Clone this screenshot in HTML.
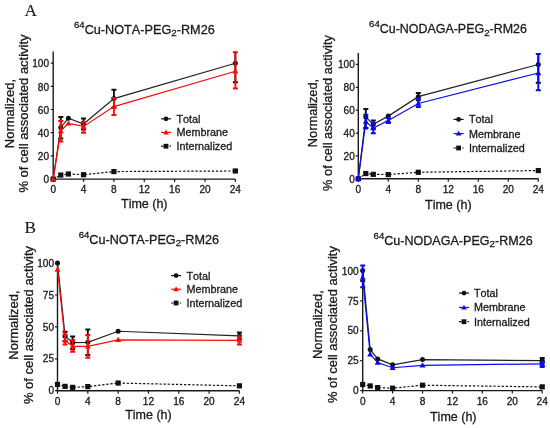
<!DOCTYPE html>
<html><head><meta charset="utf-8"><style>
html,body{margin:0;padding:0;background:#fff;width:550px;height:428px;overflow:hidden}
svg{display:block;font-family:"Liberation Sans", sans-serif;font-kerning:none;filter:blur(0.35px);}
text{fill:#1a1a1a;stroke:#1a1a1a;stroke-width:0.3px}
</style></head><body>
<svg width="550" height="428" viewBox="0 0 550 428">
<text x="24.6" y="15.6" font-family='"Liberation Serif", serif' font-size="17.2" style="stroke-width:0.1px">A</text>
<text x="24.4" y="233.0" font-family='"Liberation Serif", serif' font-size="17.2" style="stroke-width:0.1px">B</text>
<path d="M53.2 51.5V179.1H235.36" fill="none" stroke="#1a1a1a" stroke-width="1.4"/>
<path d="M50.7 179.1H53.2M50.7 155.9H53.2M50.7 132.7H53.2M50.7 109.5H53.2M50.7 86.3H53.2M50.7 63.1H53.2M53.2 179.1v3M83.56 179.1v3M113.92 179.1v3M144.28 179.1v3M174.64 179.1v3M205 179.1v3M235.36 179.1v3" stroke="#1a1a1a" stroke-width="1.2"/>
<text x="49.1" y="183.3" text-anchor="end" font-size="10.1">0</text>
<text x="49.1" y="160.1" text-anchor="end" font-size="10.1">20</text>
<text x="49.1" y="136.9" text-anchor="end" font-size="10.1">40</text>
<text x="49.1" y="113.7" text-anchor="end" font-size="10.1">60</text>
<text x="49.1" y="90.5" text-anchor="end" font-size="10.1">80</text>
<text x="49.1" y="67.3" text-anchor="end" font-size="10.1">100</text>
<text x="53.2" y="193.3" text-anchor="middle" font-size="10.1">0</text>
<text x="83.56" y="193.3" text-anchor="middle" font-size="10.1">4</text>
<text x="113.92" y="193.3" text-anchor="middle" font-size="10.1">8</text>
<text x="144.28" y="193.3" text-anchor="middle" font-size="10.1">12</text>
<text x="174.64" y="193.3" text-anchor="middle" font-size="10.1">16</text>
<text x="205" y="193.3" text-anchor="middle" font-size="10.1">20</text>
<text x="235.36" y="193.3" text-anchor="middle" font-size="10.1">24</text>
<text x="144.28" y="207.5" text-anchor="middle" font-size="12.5">Time (h)</text>
<text transform="translate(14 113.5) rotate(-90)" text-anchor="middle" font-size="13"><tspan x="0" y="0">Normalized,</tspan></text>
<text transform="translate(28.4 113.5) rotate(-90)" text-anchor="middle" font-size="13">% of cell associated activity</text>
<text x="74" y="33.8" font-size="12.68"><tspan font-size="9.6" dy="-6">64</tspan><tspan dy="6">Cu-NOTA-PEG</tspan><tspan font-size="9.8" dy="2.4">2</tspan><tspan dy="-2.4">-RM26</tspan></text>
<polyline points="53.2,179.1 60.79,175.04 68.38,174 83.56,174.69 113.92,171.56 235.36,170.98" fill="none" stroke="#111" stroke-width="1.2" stroke-dasharray="2.3 1.8"/>
<rect x="50.6" y="176.5" width="5.2" height="5.2" fill="#111"/>
<rect x="58.19" y="172.44" width="5.2" height="5.2" fill="#111"/>
<rect x="65.78" y="171.4" width="5.2" height="5.2" fill="#111"/>
<rect x="80.96" y="172.09" width="5.2" height="5.2" fill="#111"/>
<rect x="111.32" y="168.96" width="5.2" height="5.2" fill="#111"/>
<rect x="232.76" y="168.38" width="5.2" height="5.2" fill="#111"/>
<polyline points="53.2,179.1 60.79,127.48 68.38,118.2 83.56,124 113.92,98.6 235.36,63.22" fill="none" stroke="#222" stroke-width="1.2"/>
<path d="M60.79 138.62V116.92" stroke="#111" stroke-width="1.9"/><path d="M58.29 138.62h5M58.29 116.92h5" stroke="#111" stroke-width="2"/>
<path d="M83.56 129.57V118.43" stroke="#111" stroke-width="1.9"/><path d="M81.06 129.57h5M81.06 118.43h5" stroke="#111" stroke-width="2"/>
<path d="M113.92 107.41V89.78" stroke="#111" stroke-width="1.9"/><path d="M111.42 107.41h5M111.42 89.78h5" stroke="#111" stroke-width="2"/>
<path d="M235.36 82.24V51.5" stroke="#111" stroke-width="1.9"/><path d="M232.86 82.24h5" stroke="#111" stroke-width="2"/>
<circle cx="53.2" cy="179.1" r="2.5" fill="#111"/>
<circle cx="60.79" cy="127.48" r="2.5" fill="#111"/>
<circle cx="68.38" cy="118.2" r="2.5" fill="#111"/>
<circle cx="83.56" cy="124" r="2.5" fill="#111"/>
<circle cx="113.92" cy="98.6" r="2.5" fill="#111"/>
<circle cx="235.36" cy="63.22" r="2.5" fill="#111"/>
<polyline points="53.2,179.1 60.79,130.96 68.38,123.42 83.56,126.44 113.92,106.6 235.36,71.22" fill="none" stroke="#ff0a0a" stroke-width="1.2"/>
<path d="M60.79 141.52V120.98" stroke="#ff0a0a" stroke-width="1.9"/><path d="M58.29 141.52h5M58.29 120.98h5" stroke="#ff0a0a" stroke-width="2"/>
<path d="M83.56 132.82V121.91" stroke="#ff0a0a" stroke-width="1.9"/><path d="M81.06 132.82h5M81.06 121.91h5" stroke="#ff0a0a" stroke-width="2"/>
<path d="M113.92 115.07V97.9" stroke="#ff0a0a" stroke-width="1.9"/><path d="M111.42 115.07h5M111.42 97.9h5" stroke="#ff0a0a" stroke-width="2"/>
<path d="M235.36 88.62V52.31" stroke="#ff0a0a" stroke-width="1.9"/><path d="M232.86 88.62h5M232.86 52.31h5" stroke="#ff0a0a" stroke-width="2"/>
<path d="M53.2 176.1L56.2 181.3H50.2Z" fill="#ff0a0a"/>
<path d="M60.79 127.96L63.79 133.16H57.79Z" fill="#ff0a0a"/>
<path d="M68.38 120.42L71.38 125.62H65.38Z" fill="#ff0a0a"/>
<path d="M83.56 123.44L86.56 128.64H80.56Z" fill="#ff0a0a"/>
<path d="M113.92 103.6L116.92 108.8H110.92Z" fill="#ff0a0a"/>
<path d="M235.36 68.22L238.36 73.42H232.36Z" fill="#ff0a0a"/>
<path d="M161 118.8h10" stroke="#111" stroke-width="1.2"/><circle cx="166" cy="118.8" r="2.4" fill="#111"/>
<path d="M161 132.4h10" stroke="#ff0a0a" stroke-width="1.2"/><path d="M166 129.6L168.8 134.4H163.2Z" fill="#ff0a0a"/>
<path d="M161 146.2h2.6M169.6 146.2h1.4" stroke="#111" stroke-width="1.2"/><rect x="163.6" y="143.8" width="4.8" height="4.8" fill="#111"/>
<text x="176.4" y="122.7" font-size="10.8">Total</text>
<text x="176.4" y="136.3" font-size="10.8">Membrane</text>
<text x="176.4" y="150.1" font-size="10.8">Internalized</text>
<path d="M358.3 52.96V178.8H538.3" fill="none" stroke="#1a1a1a" stroke-width="1.4"/>
<path d="M355.8 178.8H358.3M355.8 155.92H358.3M355.8 133.04H358.3M355.8 110.16H358.3M355.8 87.28H358.3M355.8 64.4H358.3M358.3 178.8v3M388.3 178.8v3M418.3 178.8v3M448.3 178.8v3M478.3 178.8v3M508.3 178.8v3M538.3 178.8v3" stroke="#1a1a1a" stroke-width="1.2"/>
<text x="354.8" y="182.7" text-anchor="end" font-size="10.1">0</text>
<text x="354.8" y="159.82" text-anchor="end" font-size="10.1">20</text>
<text x="354.8" y="136.94" text-anchor="end" font-size="10.1">40</text>
<text x="354.8" y="114.06" text-anchor="end" font-size="10.1">60</text>
<text x="354.8" y="91.18" text-anchor="end" font-size="10.1">80</text>
<text x="354.8" y="68.3" text-anchor="end" font-size="10.1">100</text>
<text x="358.3" y="193" text-anchor="middle" font-size="10.1">0</text>
<text x="388.3" y="193" text-anchor="middle" font-size="10.1">4</text>
<text x="418.3" y="193" text-anchor="middle" font-size="10.1">8</text>
<text x="448.3" y="193" text-anchor="middle" font-size="10.1">12</text>
<text x="478.3" y="193" text-anchor="middle" font-size="10.1">16</text>
<text x="508.3" y="193" text-anchor="middle" font-size="10.1">20</text>
<text x="538.3" y="193" text-anchor="middle" font-size="10.1">24</text>
<text x="448.3" y="208.5" text-anchor="middle" font-size="12.5">Time (h)</text>
<text transform="translate(317.4 113) rotate(-90)" text-anchor="middle" font-size="12.8"><tspan x="0" y="0">Normalized,</tspan></text>
<text transform="translate(331.8 113) rotate(-90)" text-anchor="middle" font-size="12.8">% of cell associated activity</text>
<text x="369.1" y="33.3" font-size="12.45"><tspan font-size="9.6" dy="-6">64</tspan><tspan dy="6">Cu-NODAGA-PEG</tspan><tspan font-size="9.8" dy="2.4">2</tspan><tspan dy="-2.4">-RM26</tspan></text>
<polyline points="358.3,178.8 365.8,173.54 373.3,174.34 388.3,174.57 418.3,172.28 538.3,170.56" fill="none" stroke="#111" stroke-width="1.2" stroke-dasharray="2.3 1.8"/>
<rect x="355.7" y="176.2" width="5.2" height="5.2" fill="#111"/>
<rect x="363.2" y="170.94" width="5.2" height="5.2" fill="#111"/>
<rect x="370.7" y="171.74" width="5.2" height="5.2" fill="#111"/>
<rect x="385.7" y="171.97" width="5.2" height="5.2" fill="#111"/>
<rect x="415.7" y="169.68" width="5.2" height="5.2" fill="#111"/>
<rect x="535.7" y="167.96" width="5.2" height="5.2" fill="#111"/>
<polyline points="358.3,178.8 365.8,117.02 373.3,124.35 388.3,116.11 418.3,96.66 538.3,64.51" fill="none" stroke="#222" stroke-width="1.2"/>
<path d="M365.8 128.12V109.02" stroke="#111" stroke-width="1.9"/><path d="M363.3 128.12h5M363.3 109.02h5" stroke="#111" stroke-width="2"/>
<path d="M373.3 128.46V120.46" stroke="#111" stroke-width="1.9"/><path d="M370.8 128.46h5M370.8 120.46h5" stroke="#111" stroke-width="2"/>
<path d="M418.3 100.32V93" stroke="#111" stroke-width="1.9"/><path d="M415.8 100.32h5M415.8 93h5" stroke="#111" stroke-width="2"/>
<path d="M538.3 82.82V52.96" stroke="#111" stroke-width="1.9"/><path d="M535.8 82.82h5" stroke="#111" stroke-width="2"/>
<circle cx="358.3" cy="178.8" r="2.5" fill="#111"/>
<circle cx="365.8" cy="117.02" r="2.5" fill="#111"/>
<circle cx="373.3" cy="124.35" r="2.5" fill="#111"/>
<circle cx="388.3" cy="116.11" r="2.5" fill="#111"/>
<circle cx="418.3" cy="96.66" r="2.5" fill="#111"/>
<circle cx="538.3" cy="64.51" r="2.5" fill="#111"/>
<polyline points="358.3,178.8 365.8,121.6 373.3,128.12 388.3,120.46 418.3,103.52 538.3,72.98" fill="none" stroke="#0a0af2" stroke-width="1.2"/>
<path d="M365.8 128.46V114.74" stroke="#0a0af2" stroke-width="1.9"/><path d="M363.3 128.46h5M363.3 114.74h5" stroke="#0a0af2" stroke-width="2"/>
<path d="M373.3 133.27V122.97" stroke="#0a0af2" stroke-width="1.9"/><path d="M370.8 133.27h5M370.8 122.97h5" stroke="#0a0af2" stroke-width="2"/>
<path d="M388.3 122.97V117.94" stroke="#0a0af2" stroke-width="1.9"/><path d="M385.8 122.97h5M385.8 117.94h5" stroke="#0a0af2" stroke-width="2"/>
<path d="M418.3 106.96V98.38" stroke="#0a0af2" stroke-width="1.9"/><path d="M415.8 106.96h5M415.8 98.38h5" stroke="#0a0af2" stroke-width="2"/>
<path d="M538.3 90.25V53.88" stroke="#0a0af2" stroke-width="1.9"/><path d="M535.8 90.25h5M535.8 53.88h5" stroke="#0a0af2" stroke-width="2"/>
<path d="M358.3 175.8L361.3 181H355.3Z" fill="#0a0af2"/>
<path d="M365.8 118.6L368.8 123.8H362.8Z" fill="#0a0af2"/>
<path d="M373.3 125.12L376.3 130.32H370.3Z" fill="#0a0af2"/>
<path d="M388.3 117.46L391.3 122.66H385.3Z" fill="#0a0af2"/>
<path d="M418.3 100.52L421.3 105.72H415.3Z" fill="#0a0af2"/>
<path d="M538.3 69.98L541.3 75.18H535.3Z" fill="#0a0af2"/>
<path d="M453.6 119.4h10" stroke="#111" stroke-width="1.2"/><circle cx="458.6" cy="119.4" r="2.4" fill="#111"/>
<path d="M453.6 133.6h10" stroke="#0a0af2" stroke-width="1.2"/><path d="M458.6 130.8L461.4 135.6H455.8Z" fill="#0a0af2"/>
<path d="M453.6 148h2.6M462.2 148h1.4" stroke="#111" stroke-width="1.2"/><rect x="456.2" y="145.6" width="4.8" height="4.8" fill="#111"/>
<text x="469" y="123.3" font-size="10.8">Total</text>
<text x="469" y="137.5" font-size="10.8">Membrane</text>
<text x="469" y="151.9" font-size="10.8">Internalized</text>
<path d="M57.5 263.1V390.7H239.42" fill="none" stroke="#1a1a1a" stroke-width="1.4"/>
<path d="M55 390.7H57.5M55 358.8H57.5M55 326.9H57.5M55 295H57.5M55 263.1H57.5M57.5 390.7v3M87.82 390.7v3M118.14 390.7v3M148.46 390.7v3M178.78 390.7v3M209.1 390.7v3M239.42 390.7v3" stroke="#1a1a1a" stroke-width="1.2"/>
<text x="54" y="394.3" text-anchor="end" font-size="10.1">0</text>
<text x="54" y="362.4" text-anchor="end" font-size="10.1">25</text>
<text x="54" y="330.5" text-anchor="end" font-size="10.1">50</text>
<text x="54" y="298.6" text-anchor="end" font-size="10.1">75</text>
<text x="54" y="266.7" text-anchor="end" font-size="10.1">100</text>
<text x="57.5" y="404.5" text-anchor="middle" font-size="10.1">0</text>
<text x="87.82" y="404.5" text-anchor="middle" font-size="10.1">4</text>
<text x="118.14" y="404.5" text-anchor="middle" font-size="10.1">8</text>
<text x="148.46" y="404.5" text-anchor="middle" font-size="10.1">12</text>
<text x="178.78" y="404.5" text-anchor="middle" font-size="10.1">16</text>
<text x="209.1" y="404.5" text-anchor="middle" font-size="10.1">20</text>
<text x="239.42" y="404.5" text-anchor="middle" font-size="10.1">24</text>
<text x="148.46" y="418.5" text-anchor="middle" font-size="12.5">Time (h)</text>
<text transform="translate(17.8 325) rotate(-90)" text-anchor="middle" font-size="13"><tspan x="0" y="0">Normalized,</tspan></text>
<text transform="translate(33.4 325) rotate(-90)" text-anchor="middle" font-size="13">% of cell associated activity</text>
<text x="78.7" y="244" font-size="12.64"><tspan font-size="9.6" dy="-6">64</tspan><tspan dy="6">Cu-NOTA-PEG</tspan><tspan font-size="9.8" dy="2.4">2</tspan><tspan dy="-2.4">-RM26</tspan></text>
<polyline points="57.5,384.45 65.08,386.36 72.66,387.38 87.82,386.62 118.14,383.04 239.42,385.85" fill="none" stroke="#111" stroke-width="1.2" stroke-dasharray="2.3 1.8"/>
<rect x="54.9" y="381.85" width="5.2" height="5.2" fill="#111"/>
<rect x="62.48" y="383.76" width="5.2" height="5.2" fill="#111"/>
<rect x="70.06" y="384.78" width="5.2" height="5.2" fill="#111"/>
<rect x="85.22" y="384.02" width="5.2" height="5.2" fill="#111"/>
<rect x="115.54" y="380.44" width="5.2" height="5.2" fill="#111"/>
<rect x="236.82" y="383.25" width="5.2" height="5.2" fill="#111"/>
<polyline points="57.5,263.1 65.08,336.21 72.66,342.72 87.82,342.34 118.14,331.24 239.42,335.83" fill="none" stroke="#222" stroke-width="1.2"/>
<path d="M65.08 340.94V331.75" stroke="#111" stroke-width="1.9"/><path d="M62.58 340.94h5M62.58 331.75h5" stroke="#111" stroke-width="2"/>
<path d="M72.66 349.36V336.47" stroke="#111" stroke-width="1.9"/><path d="M70.16 349.36h5M70.16 336.47h5" stroke="#111" stroke-width="2"/>
<path d="M87.82 354.97V329.58" stroke="#111" stroke-width="1.9"/><path d="M85.32 354.97h5M85.32 329.58h5" stroke="#111" stroke-width="2"/>
<path d="M239.42 339.15V332.51" stroke="#111" stroke-width="1.9"/><path d="M236.92 339.15h5M236.92 332.51h5" stroke="#111" stroke-width="2"/>
<circle cx="57.5" cy="263.1" r="2.5" fill="#111"/>
<circle cx="65.08" cy="336.21" r="2.5" fill="#111"/>
<circle cx="72.66" cy="342.72" r="2.5" fill="#111"/>
<circle cx="87.82" cy="342.34" r="2.5" fill="#111"/>
<circle cx="118.14" cy="331.24" r="2.5" fill="#111"/>
<circle cx="239.42" cy="335.83" r="2.5" fill="#111"/>
<polyline points="57.5,269.48 65.08,340.3 72.66,346.3 87.82,346.3 118.14,339.79 239.42,340.3" fill="none" stroke="#ff0a0a" stroke-width="1.2"/>
<path d="M65.08 344.38V334.56" stroke="#ff0a0a" stroke-width="1.9"/><path d="M62.58 344.38h5M62.58 334.56h5" stroke="#ff0a0a" stroke-width="2"/>
<path d="M72.66 351.65V340.3" stroke="#ff0a0a" stroke-width="1.9"/><path d="M70.16 351.65h5M70.16 340.3h5" stroke="#ff0a0a" stroke-width="2"/>
<path d="M87.82 357.78V334.94" stroke="#ff0a0a" stroke-width="1.9"/><path d="M85.32 357.78h5M85.32 334.94h5" stroke="#ff0a0a" stroke-width="2"/>
<path d="M239.42 344.51V336.34" stroke="#ff0a0a" stroke-width="1.9"/><path d="M236.92 344.51h5M236.92 336.34h5" stroke="#ff0a0a" stroke-width="2"/>
<path d="M57.5 266.48L60.5 271.68H54.5Z" fill="#ff0a0a"/>
<path d="M65.08 337.3L68.08 342.5H62.08Z" fill="#ff0a0a"/>
<path d="M72.66 343.3L75.66 348.5H69.66Z" fill="#ff0a0a"/>
<path d="M87.82 343.3L90.82 348.5H84.82Z" fill="#ff0a0a"/>
<path d="M118.14 336.79L121.14 341.99H115.14Z" fill="#ff0a0a"/>
<path d="M239.42 337.3L242.42 342.5H236.42Z" fill="#ff0a0a"/>
<path d="M171.1 275.6h10" stroke="#111" stroke-width="1.2"/><circle cx="176.1" cy="275.6" r="2.4" fill="#111"/>
<path d="M171.1 289.2h10" stroke="#ff0a0a" stroke-width="1.2"/><path d="M176.1 286.4L178.9 291.2H173.3Z" fill="#ff0a0a"/>
<path d="M171.1 303h2.6M179.7 303h1.4" stroke="#111" stroke-width="1.2"/><rect x="173.7" y="300.6" width="4.8" height="4.8" fill="#111"/>
<text x="186.4" y="279.5" font-size="10.8">Total</text>
<text x="186.4" y="293.1" font-size="10.8">Membrane</text>
<text x="186.4" y="306.9" font-size="10.8">Internalized</text>
<path d="M362.7 271V390.6H542.22" fill="none" stroke="#1a1a1a" stroke-width="1.4"/>
<path d="M360.2 390.6H362.7M360.2 360.7H362.7M360.2 330.8H362.7M360.2 300.9H362.7M360.2 271H362.7M362.7 390.6v3M392.62 390.6v3M422.54 390.6v3M452.46 390.6v3M482.38 390.6v3M512.3 390.6v3M542.22 390.6v3" stroke="#1a1a1a" stroke-width="1.2"/>
<text x="358.7" y="394.2" text-anchor="end" font-size="10.1">0</text>
<text x="358.7" y="364.3" text-anchor="end" font-size="10.1">25</text>
<text x="358.7" y="334.4" text-anchor="end" font-size="10.1">50</text>
<text x="358.7" y="304.5" text-anchor="end" font-size="10.1">75</text>
<text x="358.7" y="274.6" text-anchor="end" font-size="10.1">100</text>
<text x="362.7" y="404.5" text-anchor="middle" font-size="10.1">0</text>
<text x="392.62" y="404.5" text-anchor="middle" font-size="10.1">4</text>
<text x="422.54" y="404.5" text-anchor="middle" font-size="10.1">8</text>
<text x="452.46" y="404.5" text-anchor="middle" font-size="10.1">12</text>
<text x="482.38" y="404.5" text-anchor="middle" font-size="10.1">16</text>
<text x="512.3" y="404.5" text-anchor="middle" font-size="10.1">20</text>
<text x="542.22" y="404.5" text-anchor="middle" font-size="10.1">24</text>
<text x="453.26" y="420.8" text-anchor="middle" font-size="12.5">Time (h)</text>
<text transform="translate(322 324.6) rotate(-90)" text-anchor="middle" font-size="12.9"><tspan x="0" y="0">Normalized,</tspan></text>
<text transform="translate(336.8 324.6) rotate(-90)" text-anchor="middle" font-size="12.9">% of cell associated activity</text>
<text x="373.6" y="245" font-size="12.55"><tspan font-size="9.6" dy="-6">64</tspan><tspan dy="6">Cu-NODAGA-PEG</tspan><tspan font-size="9.8" dy="2.4">2</tspan><tspan dy="-2.4">-RM26</tspan></text>
<polyline points="362.7,384.5 370.18,385.94 377.66,387.61 392.62,388.21 422.54,385.22 542.22,386.89" fill="none" stroke="#111" stroke-width="1.2" stroke-dasharray="2.3 1.8"/>
<rect x="360.1" y="381.9" width="5.2" height="5.2" fill="#111"/>
<rect x="367.58" y="383.34" width="5.2" height="5.2" fill="#111"/>
<rect x="375.06" y="385.01" width="5.2" height="5.2" fill="#111"/>
<rect x="390.02" y="385.61" width="5.2" height="5.2" fill="#111"/>
<rect x="419.94" y="382.62" width="5.2" height="5.2" fill="#111"/>
<rect x="539.62" y="384.29" width="5.2" height="5.2" fill="#111"/>
<polyline points="362.7,270.52 370.18,349.46 377.66,358.91 392.62,364.77 422.54,359.62 542.22,360.58" fill="none" stroke="#222" stroke-width="1.2"/>
<path d="M362.7 281.05V270.52" stroke="#111" stroke-width="1.9"/><path d="M360.2 281.05h5" stroke="#111" stroke-width="2"/>
<path d="M542.22 363.09V357.95" stroke="#111" stroke-width="1.9"/><path d="M539.72 363.09h5M539.72 357.95h5" stroke="#111" stroke-width="2"/>
<circle cx="362.7" cy="270.52" r="2.5" fill="#111"/>
<circle cx="370.18" cy="349.46" r="2.5" fill="#111"/>
<circle cx="377.66" cy="358.91" r="2.5" fill="#111"/>
<circle cx="392.62" cy="364.77" r="2.5" fill="#111"/>
<circle cx="422.54" cy="359.62" r="2.5" fill="#111"/>
<circle cx="542.22" cy="360.58" r="2.5" fill="#111"/>
<polyline points="362.7,277.46 370.18,354.36 377.66,362.49 392.62,367.76 422.54,365.36 542.22,363.81" fill="none" stroke="#0a0af2" stroke-width="1.2"/>
<path d="M362.7 287.27V265.38" stroke="#0a0af2" stroke-width="1.9"/><path d="M360.2 287.27h5M360.2 265.38h5" stroke="#0a0af2" stroke-width="2"/>
<path d="M542.22 366.92V361.9" stroke="#0a0af2" stroke-width="1.9"/><path d="M539.72 366.92h5M539.72 361.9h5" stroke="#0a0af2" stroke-width="2"/>
<path d="M362.7 274.46L365.7 279.66H359.7Z" fill="#0a0af2"/>
<path d="M370.18 351.36L373.18 356.56H367.18Z" fill="#0a0af2"/>
<path d="M377.66 359.49L380.66 364.69H374.66Z" fill="#0a0af2"/>
<path d="M392.62 364.76L395.62 369.96H389.62Z" fill="#0a0af2"/>
<path d="M422.54 362.36L425.54 367.56H419.54Z" fill="#0a0af2"/>
<path d="M542.22 360.81L545.22 366.01H539.22Z" fill="#0a0af2"/>
<path d="M459 293.1h10" stroke="#111" stroke-width="1.2"/><circle cx="464" cy="293.1" r="2.4" fill="#111"/>
<path d="M459 307.5h10" stroke="#0a0af2" stroke-width="1.2"/><path d="M464 304.7L466.8 309.5H461.2Z" fill="#0a0af2"/>
<path d="M459 321.7h2.6M467.6 321.7h1.4" stroke="#111" stroke-width="1.2"/><rect x="461.6" y="319.3" width="4.8" height="4.8" fill="#111"/>
<text x="473.9" y="297" font-size="10.8">Total</text>
<text x="473.9" y="311.4" font-size="10.8">Membrane</text>
<text x="473.9" y="325.6" font-size="10.8">Internalized</text>
</svg>
</body></html>
